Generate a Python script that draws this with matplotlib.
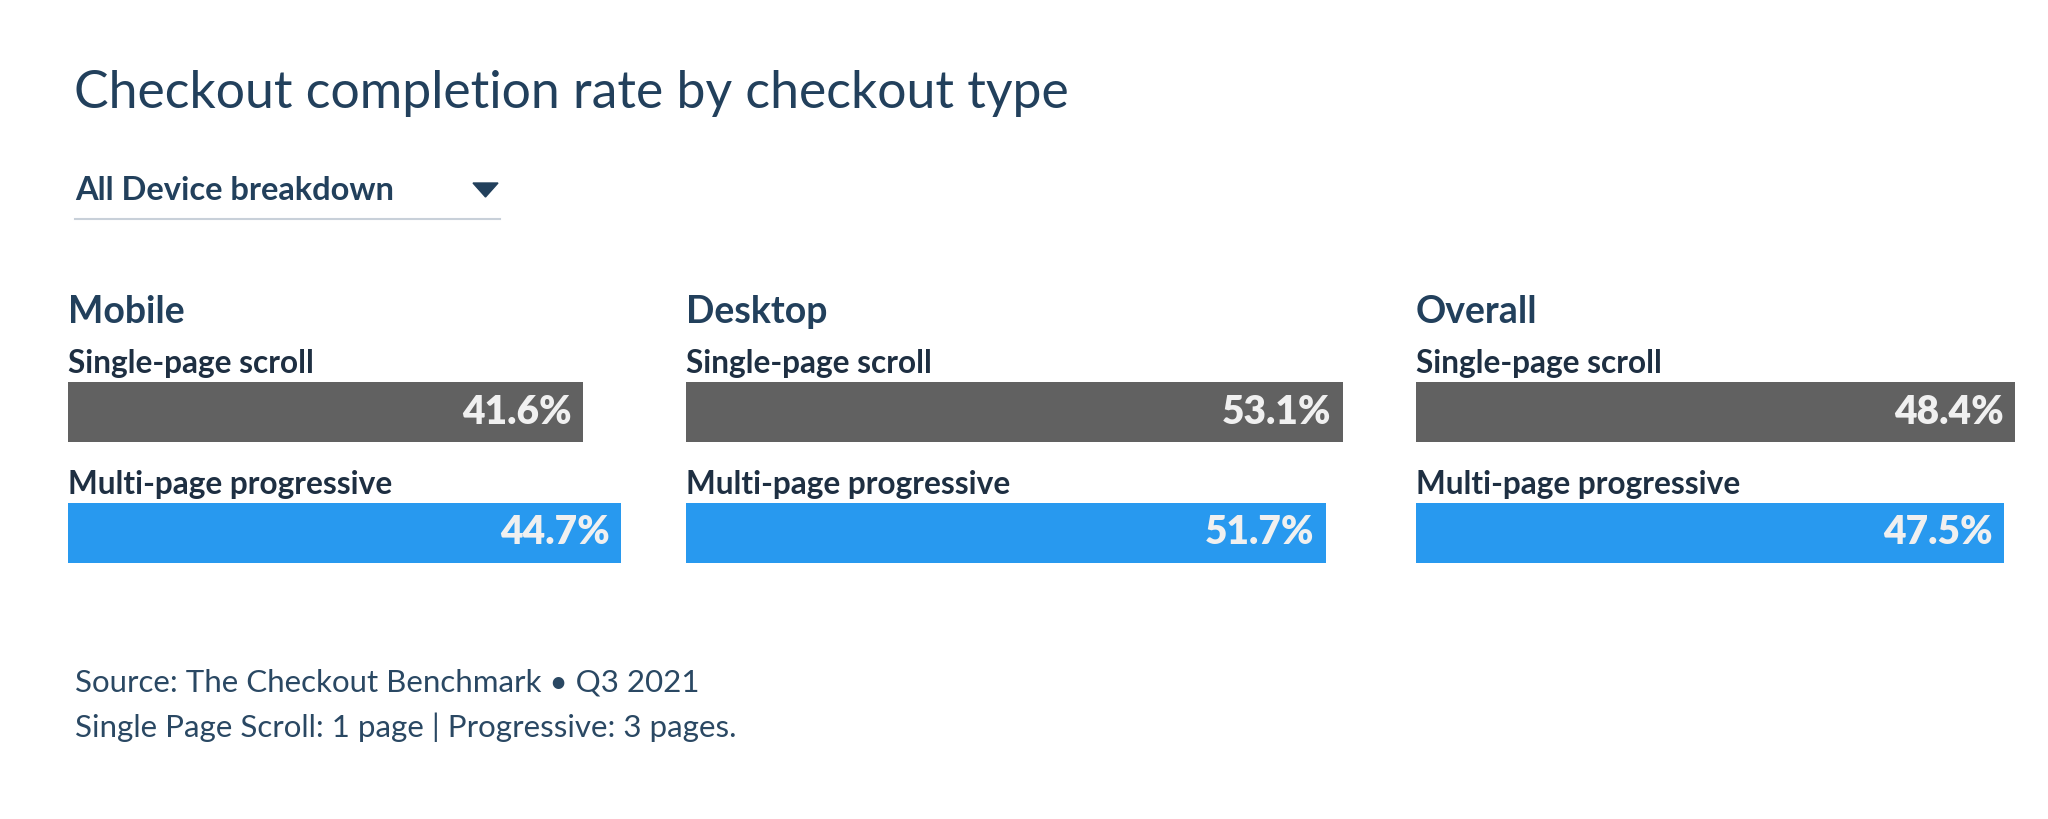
import numpy as np
import matplotlib.pyplot as plt
from matplotlib.patches import Polygon

# data
groups = ['Mobile', 'Desktop', 'Overall']
checkout_types = ['Single-page scroll', 'Multi-page progressive']
single_page = [41.6, 53.1, 48.4]
multi_page = [44.7, 51.7, 47.5]

title = 'Checkout completion rate by checkout type'
dropdown = 'All Device breakdown'
notes = ['Source: The Checkout Benchmark \u2022 Q3 2021',
         'Single Page Scroll: 1 page | Progressive: 3 pages.']

W, H = 2048, 819
navy = '#22405c'
dark = '#1e2f42'
bar_colors = ['#616161', '#2899ef']

plt.rcParams['font.family'] = ['Lato', 'DejaVu Sans']

fig = plt.figure(figsize=(W / 100, H / 100), dpi=100)
fig.patch.set_facecolor('white')


def fx(px):
    return px / W


def fy(py):
    return 1 - py / H


fig.text(fx(74), fy(108), title, fontsize=37.3, color=navy, va='baseline')
fig.text(fx(75), fy(200), dropdown, fontsize=23.5, fontweight='bold', color=navy, va='baseline')
fig.add_artist(Polygon([[fx(473), fy(183)], [fx(498), fy(183)], [fx(485.5), fy(197)]],
                       closed=True, transform=fig.transFigure, color=navy))
fig.add_artist(plt.Line2D([fx(75), fx(500)], [fy(219), fy(219)], transform=fig.transFigure,
                          color='#c8d0d9', lw=1.5))

# panels
px_per_pct = 12.37
xmax = 60
panel_left = [68, 686, 1416]
ax_top, ax_bottom = 351.5, 593.5
bar_h = 0.49

for i, g in enumerate(groups):
    ax = fig.add_axes([fx(panel_left[i]), fy(ax_bottom), xmax * px_per_pct / W, (ax_bottom - ax_top) / H])
    ax.set_xlim(0, xmax)
    ax.set_ylim(1.5, -0.5)
    ax.axis('off')
    ax.patch.set_alpha(0)
    vals = [single_page[i], multi_page[i]]
    y = np.arange(len(checkout_types))
    ax.barh(y, vals, height=bar_h, color=bar_colors, clip_on=False)
    for j, v in enumerate(vals):
        ax.text(0, y[j] - bar_h / 2 - 0.075, checkout_types[j], fontsize=22.8, fontweight='bold',
                color=dark, va='baseline', ha='left', clip_on=False)
        ax.annotate(f'{v:.1f}%', xy=(v, y[j]), xytext=(-8, 0), textcoords='offset points',
                    ha='right', va='center', fontsize=28, fontweight='heavy', color='#f0f0f0')
    ax.text(0, -bar_h / 2 - 0.49, g, fontsize=27, fontweight='bold', color=navy,
            va='baseline', ha='left', clip_on=False)

fig.text(fx(75), fy(692), notes[0], fontsize=22.5, color='#2a4863', va='baseline')
fig.text(fx(75), fy(737), notes[1], fontsize=22.5, color='#2a4863', va='baseline')

fig.savefig('out.png', dpi=100, facecolor='white')
